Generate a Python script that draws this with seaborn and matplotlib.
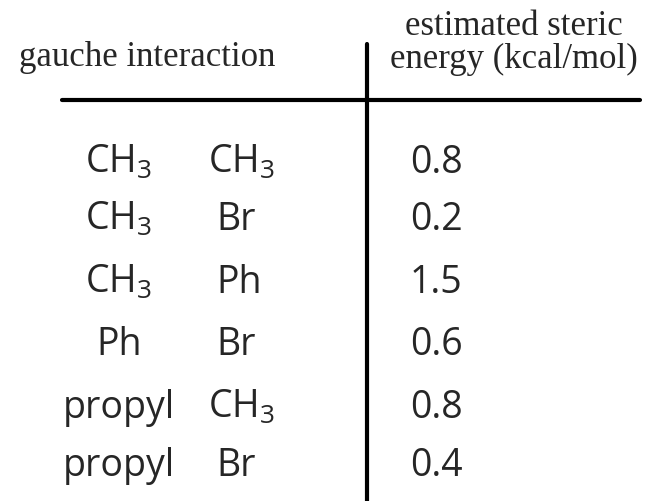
import matplotlib
matplotlib.use("Agg")
import matplotlib.pyplot as plt
import seaborn as sns

group1 = ["CH$_3$", "CH$_3$", "CH$_3$", "Ph", "propyl", "propyl"]
group2 = ["CH$_3$", "Br", "Ph", "Br", "CH$_3$", "Br"]
energies = ["0.8", "0.2", "1.5", "0.6", "0.8", "0.4"]
header_left = "gauche interaction"
header_right = "estimated steric\nenergy (kcal/mol)"

sns.set_theme(style="white")
plt.rcParams['mathtext.fontset'] = 'custom'
plt.rcParams['mathtext.rm'] = 'Open Sans'
plt.rcParams['mathtext.it'] = 'Open Sans'

fig = plt.figure(figsize=(6.58, 5.02), dpi=100)
ax = fig.add_axes([0, 0, 1, 1])
ax.set_xlim(0, 658)
ax.set_ylim(502, 0)
ax.axis("off")

ax.text(147, 58, header_left, family="Liberation Serif", fontsize=25, ha="center", va="center")
ax.text(514, 43, header_right, family="Liberation Serif", fontsize=25, ha="center", va="center", linespacing=1.0)
ax.plot([62, 640], [101, 101], color="black", lw=3)
ax.plot([367, 367], [45, 502], color="black", lw=3)

ys = [163, 220, 283, 345, 408, 466]
for y, a, b, e in zip(ys, group1, group2, energies):
    ax.text(119, y, a, family="Open Sans", fontsize=27, ha="center", va="center")
    ax.text(208 if b.startswith("CH") else 216, y, b, family="Open Sans", fontsize=27, ha="left", va="center")
    ax.text(436, y, e, family="Open Sans", fontsize=27, ha="center", va="center")

fig.savefig("out.png", dpi=100)
